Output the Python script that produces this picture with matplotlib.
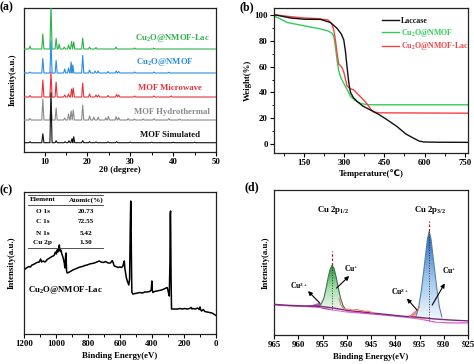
import numpy as np
import matplotlib
matplotlib.use('Agg')
import matplotlib.pyplot as plt
from matplotlib.colors import LinearSegmentedColormap
from matplotlib.ticker import MultipleLocator

plt.rcParams['font.family'] = ['Liberation Serif', 'DejaVu Sans']
plt.rcParams['font.weight'] = 'bold'
plt.rcParams['axes.labelweight'] = 'bold'
plt.rcParams['mathtext.fontset'] = 'custom'
plt.rcParams['mathtext.rm'] = 'Liberation Serif:bold'
plt.rcParams['mathtext.bf'] = 'Liberation Serif:bold'
plt.rcParams['mathtext.it'] = 'Liberation Serif:bold'
plt.rcParams['mathtext.default'] = 'rm'

FS = 6.3  # text size used through the figure

# ---------------- (a) XRD data: peak positions (2theta) and heights ----------------
xrd_names = ['MOF Simulated', 'MOF Hydrothermal', 'MOF Microwave',
             'Cu$_2$O@NMOF', 'Cu$_2$O@NMOF-Lac']
xrd_colors = ['#111111', '#8a8a8a', '#e8323a', '#2b8de0', '#2db34a']
xrd_offsets = [9.3, 32, 55, 79, 103]
sim_pos = [6.6, 9.6, 11.5, 12.7, 14.8, 15.7, 16.4, 16.8, 18.9, 20.5, 22.0, 24.8, 26.8, 30, 35, 40, 45]
sim_h = [1, 9, 50, 2, 1, 2, 4, 6, 2, 1, 0.8, 0.8, 1, 0.6, 0.5, 0.5, 0.5]
hyd_pos = [6.6, 9.6, 11.5, 12.7, 14.7, 15.6, 16.2, 16.7, 18.9, 20.5, 21.5, 22.5, 24.3, 24.9,
           26.7, 27.3, 29.5, 31, 33, 35.5, 39, 41.5]
hyd_h = [1.5, 21, 20, 12, 2, 6, 9, 10, 15, 4, 3, 3, 2, 3.5, 3.5, 2.5, 1.5, 1, 1, 1.2, 1.5, 1]
mw_pos = [6.6, 9.6, 11.5, 12.7, 14.7, 15.6, 16.3, 16.7, 18.9, 20.5, 22.0, 22.6, 24.8, 26.8,
          27.3, 31, 35.5, 39.5]
mw_h = [1.5, 17, 25, 15, 2, 3, 8, 9, 14, 3, 2, 2, 1.5, 2.5, 2, 1, 1, 1]
nm_pos = [6.6, 9.6, 11.5, 12.7, 14.7, 15.6, 16.2, 16.6, 18.9, 20.5, 21.8, 22.5, 24.8, 26.7,
          27.3, 31, 35.5, 39]
nm_h = [1, 14.5, 32, 12.5, 4, 5, 11, 8, 17.5, 3, 2, 2, 1.5, 2, 1.5, 1, 1, 0.8]
lac_pos = [6.6, 9.6, 11.5, 12.7, 13.4, 14.6, 15.6, 16.3, 16.8, 18.9, 20.5, 22, 26.7, 31, 35.5]
lac_h = [3, 15, 45, 10.6, 5, 2, 4, 7.6, 7, 11, 2, 1.5, 2, 1, 0.8]
xrd_peaks = [(sim_pos, sim_h), (hyd_pos, hyd_h), (mw_pos, mw_h), (nm_pos, nm_h), (lac_pos, lac_h)]

# ---------------- (b) TGA ----------------
lac_T = [40, 100, 150, 212, 249, 274, 290, 299, 305, 311, 318, 324, 335, 349, 370, 398, 430,
         460, 498, 530, 560, 580, 597, 650, 765]
lac_w = [100, 97.5, 96.5, 96.4, 94, 89.5, 85, 80.5, 72, 60, 47, 40, 36, 33, 29.5, 26.5, 23,
         19, 13.6, 8, 4.6, 2.5, 1.8, 1.6, 1.5]
nmof_T = [40, 60, 88, 150, 212, 240, 256, 262, 268, 274, 280, 287, 299, 312, 324, 340, 361,
          380, 398, 450, 765]
nmof_w = [99, 97, 94, 91.5, 89, 87.5, 85.6, 83, 75, 65, 57, 52, 47, 42, 37, 34, 31.6, 30.8,
          30.5, 30.5, 30.5]
nlac_T = [40, 100, 150, 200, 240, 254, 262, 268, 274, 280, 287, 293, 300, 311, 322, 336, 355,
          374, 390, 400, 411, 430, 765]
nlac_w = [100, 98.5, 97.5, 97, 96, 93, 88, 80, 70, 62, 60.5, 59, 55, 45, 43, 42, 38, 34, 30,
          27, 25, 24.3, 24]

# ---------------- (c) XPS survey ----------------
sv_be = [1200, 1185, 1170, 1160, 1150, 1135, 1120, 1105, 1096, 1090, 1080, 1068, 1055, 1040,
         1025, 1012, 1004, 998, 993, 988, 983, 979, 975, 970, 963, 955, 948, 944, 940, 937, 934,
         930, 922, 910, 895, 880, 865, 850, 835, 820, 805, 790, 775, 760, 745, 730, 718, 705,
         690, 675, 660, 648, 642, 636, 625, 612, 600, 590, 582, 577, 573, 570, 566, 560, 552,
         545, 540, 536, 533, 531, 529, 526, 520, 505, 490, 475, 460, 445, 430, 415, 405, 401,
         398, 395, 385, 370, 355, 340, 325, 312, 305, 298, 292, 288, 286, 284, 281, 278, 270,
         255, 240, 225, 210, 195, 180, 165, 155, 150, 145, 130, 115, 105, 100, 95, 90, 80, 70,
         55, 40, 25, 10, 0]
sv_int = [64, 66, 67.5, 67, 69, 70, 71.5, 72, 75, 72, 73, 72, 74.5, 76, 77.5, 78.5, 82, 80,
          84, 82, 86, 89, 83, 84, 80, 76, 71, 66, 78, 81, 63, 61, 61.5, 62.5, 64, 65, 66, 67,
          67.5, 68.5, 69, 70, 70.5, 71, 72, 73, 72, 71.5, 72.5, 71, 71, 73.5, 71, 68, 67.5, 66.5,
          67, 66.5, 68, 71, 73, 66, 62, 56, 52, 49, 55, 105, 133, 128, 80, 42, 40, 40.5, 41,
          41.5, 41, 42, 42, 42.5, 44, 53, 44, 41.5, 42.5, 43, 43.5, 44, 45, 46, 46.5, 42, 38,
          70, 120, 123, 60, 25, 25, 25, 25, 25.5, 25, 25.5, 25, 25.5, 26.5, 25, 25.5, 25, 26,
          24.5, 27, 24, 23, 24.5, 22.5, 22, 21.5, 21, 19.5, 18.5]
tab_elements = ['O 1s', 'C 1s', 'N 1s', 'Cu 2p']
tab_atomic = ['20.73', '72.55', '5.42', '1.30']

# ---------------- (d) Cu 2p high resolution ----------------
bg_be = [965, 962, 959, 956, 953, 950, 947, 944, 941, 938, 935, 932, 929, 925]
bg_raw = [30.5, 29.5, 29, 28.8, 27, 24.5, 23, 21.5, 20, 18.5, 17.5, 16, 15, 14]
bg_shirley = [30, 29, 28.3, 27.8, 25, 23, 21.8, 20.5, 19.2, 17.8, 16, 13, 12, 12]
g_be = [955.8, 955.25, 954.7, 954.2, 953.8, 953.4, 953.0, 952.6, 952.2, 951.8, 951.3, 950.75, 950.2]
g_top = [28, 31, 37, 48, 58, 66, 69.5, 66, 58, 48, 37, 29, 25]
g_base = [27.8, 27.4, 27.0, 26.6, 26.2, 25.9, 25.5, 25.2, 24.9, 24.5, 24.1, 23.7, 23.3]
b_be = [935.6, 935.1, 934.6, 934.1, 933.7, 933.35, 933.0, 932.65, 932.3, 931.9, 931.4, 930.9, 930.4]
b_top = [20, 30, 45, 65, 82, 96, 103, 96, 82, 65, 45, 28, 18]
b_base = [17.5, 17.1, 16.7, 16.2, 15.8, 15.4, 15.0, 14.6, 14.2, 13.8, 13.3, 12.9, 12.5]
c2l_be = [958.5, 957.5, 956.5, 955.8, 955.0, 954.2, 953.5]
c2l_top = [28.9, 30, 31.5, 32.5, 31.5, 29, 26.5]
c2l_base = [28.4, 28.3, 28.1, 27.9, 26.5, 25.8, 25.2]
c2r_be = [937.5, 936.8, 936.2, 935.6, 935.0, 934.4, 933.8]
c2r_top = [18.3, 19.5, 22, 24.5, 22.5, 19, 16.5]
c2r_base = [18.0, 17.6, 17.2, 16.8, 16.4, 15.6, 15.2]
sal_be = [951.6, 951.2, 950.8, 950.3, 949.8, 949.2, 948.6, 948.0, 947.4, 946.8, 946.2, 945.6,
          945.0, 944.4]
sal_int = [36, 30, 27, 25.5, 25.8, 25.2, 24.8, 25.5, 24.6, 24.2, 23.5, 23.8, 22.7, 22]
sal2_be = [937, 936.5, 936, 935.5, 935]
sal2_int = [18.5, 19.5, 21.5, 24, 28]


def style(ax):
    for s in ax.spines.values():
        s.set_linewidth(0.9)
        s.set_color('#222222')
    ax.tick_params(direction='out', length=3, width=0.8, labelsize=FS, pad=1.5)
    ax.tick_params(which='minor', direction='out', length=1.8, width=0.7)


def stick_pattern(pos, h, base, hw=0.25):
    xs, ys = [5.0], [base]
    for p, v in sorted(zip(pos, h)):
        xs += [p - hw, p, p + hw]
        ys += [base, base + v, base]
    xs.append(50.0)
    ys.append(base)
    return xs, ys


def grad_fill(ax, x, top, base, colors, z):
    poly = ax.fill_between(x, base, top, facecolor='none', edgecolor='none')
    cmap = LinearSegmentedColormap.from_list('g', colors)
    ramp = np.linspace(0, 1, 64).reshape(-1, 1)
    im = ax.imshow(ramp, cmap=cmap, aspect='auto', origin='lower',
                   extent=(min(x), max(x), min(base), max(top)), zorder=z)
    im.set_clip_path(poly.get_paths()[0], transform=ax.transData)


fig = plt.figure(figsize=(4.74, 3.64), dpi=100)
ax_a = fig.add_axes([0.0506, 0.5824, 0.4051, 0.3956])
ax_b = fig.add_axes([0.5781, 0.5797, 0.4093, 0.3984])
ax_c = fig.add_axes([0.0506, 0.0824, 0.4051, 0.3901])
ax_d = fig.add_axes([0.5781, 0.0797, 0.4093, 0.3984])

# (a)
for i, ((pos, h), off, col) in enumerate(zip(xrd_peaks, xrd_offsets, xrd_colors)):
    xs, ys = stick_pattern(pos, h, off)
    ax_a.plot(xs, ys, color=col, lw=0.8, zorder=10 - i)
lab_pos = [(0.760, 0.118), (0.771, 0.278), (0.760, 0.444), (0.735, 0.625), (0.771, 0.792)]
for name, col, (tx, ty) in zip(xrd_names, xrd_colors, lab_pos):
    ax_a.text(tx, ty, name, color=col, fontsize=FS, ha='center', va='center',
              transform=ax_a.transAxes)
ax_a.set_xlim(5.2, 50)
ax_a.set_ylim(0, 144)
ax_a.set_yticks([])
ax_a.xaxis.set_major_locator(MultipleLocator(10))
ax_a.xaxis.set_minor_locator(MultipleLocator(5))
ax_a.set_xlabel('2θ (degree)', fontsize=FS)
ax_a.set_ylabel('Intensity(a.u.)', fontsize=FS)
ax_a.xaxis.set_label_coords(0.5, -0.1)
ax_a.yaxis.set_label_coords(-0.04, 0.5)
style(ax_a)

# (b)
ax_b.plot(lac_T, lac_w, color='#111111', lw=1.0, label='Laccase', zorder=3)
ax_b.plot(nmof_T, nmof_w, color='#33cc5a', lw=1.0, label='Cu$_2$O@NMOF', zorder=2)
ax_b.plot(nlac_T, nlac_w, color='#f04545', lw=1.0, label='Cu$_2$O@NMOF-Lac', zorder=2)
ax_b.set_xlim(39, 762)
ax_b.set_ylim(-6.7, 105.2)
ax_b.xaxis.set_major_locator(MultipleLocator(150))
ax_b.xaxis.set_minor_locator(MultipleLocator(75))
ax_b.yaxis.set_major_locator(MultipleLocator(20))
ax_b.yaxis.set_minor_locator(MultipleLocator(10))
ax_b.set_xlabel('Temperature(℃)', fontsize=FS)
ax_b.set_ylabel('Weight(%)', fontsize=FS)
ax_b.xaxis.set_label_coords(0.5, -0.11)
ax_b.yaxis.set_label_coords(-0.115, 0.5)
ax_b.legend(loc='upper left', bbox_to_anchor=(0.53, 0.975), frameon=False, fontsize=5.7,
            handlelength=2.1, labelspacing=0.2, handletextpad=0.3, borderpad=0.2,
            labelcolor='linecolor')
style(ax_b)

# (c)
ax_c.plot(sv_be, sv_int, color='black', lw=1.1)
ax_c.set_xlim(1200, 0)
ax_c.set_ylim(0, 142)
ax_c.set_yticks([])
ax_c.xaxis.set_major_locator(MultipleLocator(200))
ax_c.xaxis.set_minor_locator(MultipleLocator(100))
ax_c.set_xlabel('Binding Energy(eV)', fontsize=FS)
ax_c.set_ylabel('Intensity(a.u.)', fontsize=FS)
ax_c.xaxis.set_label_coords(0.5, -0.125)
ax_c.yaxis.set_label_coords(-0.045, 0.5)
tr = ax_c.transAxes
for yl in [0.98, 0.911, 0.606]:
    ax_c.plot([0.021, 0.411], [yl, yl], color='#333333', lw=0.6, transform=tr)
ax_c.text(0.099, 0.944, 'Element', fontsize=5.2, ha='center', va='center', transform=tr)
ax_c.text(0.323, 0.944, 'Atomic(%)', fontsize=5.2, ha='center', va='center', transform=tr)
for el, at, yy in zip(tab_elements, tab_atomic, [0.866, 0.789, 0.711, 0.641]):
    ax_c.text(0.099, yy, el, fontsize=5.2, ha='center', va='center', transform=tr)
    ax_c.text(0.323, yy, at, fontsize=5.2, ha='center', va='center', transform=tr)
ax_c.text(0.214, 0.31, 'Cu$_2$O@NMOF-Lac', fontsize=FS, ha='center', va='center', transform=tr)
style(ax_c)

# (d)
ax_d.plot(bg_be, bg_shirley, color='#d45ad0', lw=0.9, zorder=2)
ax_d.fill_between(c2l_be, c2l_base, c2l_top, color='#b03aa2', alpha=0.85, lw=0, zorder=3)
ax_d.fill_between(c2r_be, c2r_base, c2r_top, color='#f4a090', alpha=0.9, lw=0, zorder=3)
ax_d.plot(c2r_be, c2r_top, color='#e060c0', lw=0.7, zorder=4)
grad_fill(ax_d, g_be, g_top, g_base, ['#f4fbf4', '#a6e0ad', '#1f9a3c'], 4)
grad_fill(ax_d, b_be, b_top, b_base, ['#f4f8ff', '#9cc4ec', '#1b5fb8'], 4)
ax_d.plot(g_be, g_top, color='#4f6b55', lw=0.8, zorder=5)
ax_d.plot(b_be, b_top, color='#5b7fa6', lw=0.8, zorder=5)
ax_d.plot(bg_be, bg_raw, color='#7a2a78', lw=1.0, zorder=6)
ax_d.plot(sal_be, sal_int, color='#f07a6a', lw=0.8, zorder=6)
ax_d.plot(sal2_be, sal2_int, color='#f07a6a', lw=0.8, zorder=6)
ax_d.plot([g_be[6], g_be[6]], [g_base[6], g_top[6]], color='#333333', lw=0.7, ls=':', zorder=7)
ax_d.plot([b_be[6], b_be[6]], [b_base[6], b_top[6]], color='#333333', lw=0.7, ls=':', zorder=7)
ax_d.plot([g_be[6], g_be[6]], [70, 84], color='#a02020', lw=0.9, ls=(0, (2, 1.5)), zorder=7)
ax_d.plot([b_be[6], b_be[6]], [103.5, 113], color='#a02020', lw=0.9, ls=(0, (2, 1.5)), zorder=7)
ax_d.text(952.8, 124.3, 'Cu 2p$_{1/2}$', fontsize=FS, ha='center', va='center')
ax_d.text(932.8, 124.3, 'Cu 2p$_{3/2}$', fontsize=FS, ha='center', va='center')
for txt, lab, head, tail in [('Cu$^{+}$', (949.0, 66), (949.5, 58.7), (952.1, 46.7)),
                             ('Cu$^{2+}$', (959.8, 49.5), (958.0, 43.7), (955.6, 32)),
                             ('Cu$^{2+}$', (939.0, 43.5), (937.6, 36.3), (935.5, 24.7)),
                             ('Cu$^{+}$', (928.9, 64), (929.8, 51.3), (932.4, 29.7))]:
    ax_d.text(lab[0], lab[1], txt, fontsize=5.5, ha='center', va='center', zorder=8)
    ax_d.annotate('', xy=head, xytext=tail, zorder=8,
                  arrowprops=dict(arrowstyle='-|>', color='black', lw=0.8,
                                  mutation_scale=6, shrinkA=0, shrinkB=0))
ax_d.set_xlim(965, 925)
ax_d.set_ylim(0, 144.3)
ax_d.set_yticks([])
ax_d.xaxis.set_major_locator(MultipleLocator(5))
ax_d.set_xlabel('Binding Energy(eV)', fontsize=FS)
ax_d.set_ylabel('Intensity(a.u.)', fontsize=FS)
ax_d.xaxis.set_label_coords(0.5, -0.125)
ax_d.yaxis.set_label_coords(-0.02, 0.5)
style(ax_d)

for lab, x, y in [('(a)', 0.0, 0.981), ('(b)', 0.506, 0.981), ('(c)', 0.0, 0.478),
                  ('(d)', 0.515, 0.486)]:
    fig.text(x, y, lab, fontsize=8.5, fontweight='bold', ha='left', va='center')

fig.savefig('out.png', dpi=100)
